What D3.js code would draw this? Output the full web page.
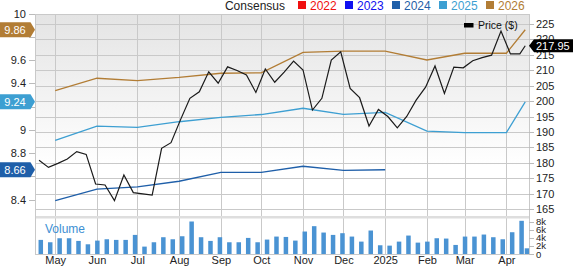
<!DOCTYPE html>
<html>
<head>
<meta charset="utf-8">
<script src="https://cdn.jsdelivr.net/npm/d3@7"></script>
<style>
  body { margin: 0; background: #fff; }
  svg { display: block; font-family: "Liberation Sans", Arial, sans-serif; }
  .grid line { stroke: #c9c9c9; stroke-width: 1; shape-rendering: crispEdges; }
  .axis text { fill: #222; }
  .axis path { display: none; }
  .axis line { stroke: #bbb; shape-rendering: crispEdges; }
</style>
</head>
<body>
<svg id="chart" width="573" height="266"></svg>
<script>
// weekly closes (Fridays) + latest day
var priceDates = ["2024-04-19","2024-04-26","2024-05-03","2024-05-10","2024-05-17","2024-05-24","2024-05-31",
  "2024-06-07","2024-06-14","2024-06-21","2024-06-28","2024-07-05","2024-07-12","2024-07-19","2024-07-26",
  "2024-08-02","2024-08-09","2024-08-16","2024-08-23","2024-08-30","2024-09-06","2024-09-13","2024-09-20",
  "2024-09-27","2024-10-04","2024-10-11","2024-10-18","2024-10-25","2024-11-01","2024-11-08","2024-11-15",
  "2024-11-22","2024-11-29","2024-12-06","2024-12-13","2024-12-20","2024-12-27","2025-01-03","2025-01-10",
  "2025-01-17","2025-01-24","2025-01-31","2025-02-07","2025-02-14","2025-02-21","2025-02-28","2025-03-07",
  "2025-03-14","2025-03-21","2025-03-28","2025-04-04","2025-04-11","2025-04-15"]
var priceValues = [180.8, 178.5, 179.8, 181.2, 183.6, 182.7, 173.1, 172.8, 167.7, 176.0,
  170.3, 169.9, 169.5, 184.7, 186.5, 193.9, 200.9, 203.0, 209.5, 205.8,
  211.1, 209.9, 208.5, 202.8, 210.4, 206.1, 209.4, 213.0, 210.1, 197.1,
  200.9, 213.3, 216.0, 204.1, 201.1, 191.9, 197.3, 195.0, 191.3, 195.0,
  200.3, 204.5, 211.4, 202.5, 211.0, 210.8, 213.1, 214.1, 214.9, 222.7,
  215.3, 215.3, 217.95]
// volume in thousands
var volumeValues = [3.47, 2.89, 3.88, 3.88, 3.22, 2.39, 3.3, 3.63, 3.47, 3.47,
  4.7, 1.82, 2.89, 4.13, 3.63, 4.37, 8.0, 4.13, 3.22, 4.13,
  2.89, 2.89, 3.96, 2.89, 3.55, 4.29, 4.2, 3.3, 5.53, 6.85,
  5.28, 4.7, 5.12, 4.29, 3.05, 5.78, 2.15, 2.06, 3.05, 4.54,
  2.8, 3.05, 3.88, 3.8, 2.23, 4.29, 4.29, 4.79, 4.13, 3.63,
  5.36, 8.17, 1.4]

// monthly consensus EPS estimates
var estDates = ["2024-05-01","2024-06-01","2024-07-01","2024-08-01","2024-09-01","2024-10-01","2024-11-01",
  "2024-12-01","2025-01-01","2025-02-01","2025-03-01","2025-04-01","2025-04-15"]
var est2026 = [9.336, 9.443, 9.422, 9.45, 9.486, 9.49, 9.666, 9.677, 9.677, 9.6, 9.658, 9.658, 9.86]
var est2025 = [8.909, 9.032, 9.021, 9.069, 9.107, 9.131, 9.185, 9.133, 9.15, 8.989, 8.975, 8.975, 9.24]
var est2024 = [8.39, 8.49, 8.508, 8.557, 8.634, 8.634, 8.686, 8.651, 8.656]

var legendYears = ["2022", "2023", "2024", "2025", "2026"]
var legendColors = ["#f01010", "#1010f0", "#1f5fa9", "#3d9fd2", "#b27d35"]
var estTicks = [8.4, 8.6, 8.8, 9, 9.2, 9.4, 9.6, 9.8, 10]
var priceTicks = [165, 170, 175, 180, 185, 190, 195, 200, 205, 210, 215, 220, 225]
var volTicks = [0, 2, 4, 6, 8]

var Plot = { left: 35, right: 529, top: 14, bottom: 216, volTop: 218, volBottom: 254 }
var parse = d3.timeParse("%Y-%m-%d")

function main() {
  var svg = d3.select("#chart")

  var x = d3.scaleTime()
    .domain([parse("2024-04-16"), new Date(2025, 3, 17, 19)])
    .range([Plot.left, Plot.right])
  var yPrice = d3.scaleLinear().domain([165, 225]).range([209, 24])
  var yEst = d3.scaleLinear().domain([8.4, 10]).range([199.5, 13.5])
  var yVol = d3.scaleLinear().domain([0, 8]).range([Plot.volBottom, 221.5])

  // background gradient
  var grad = svg.append("defs").append("linearGradient")
    .attr("id", "bg").attr("x1", 0).attr("y1", 0).attr("x2", 0).attr("y2", 1)
  grad.append("stop").attr("offset", "0%").attr("stop-color", "#e4e4e4")
  grad.append("stop").attr("offset", "75%").attr("stop-color", "#ffffff")
  svg.select("defs").append("clipPath").attr("id", "clip")
    .append("rect").attr("x", Plot.left).attr("y", Plot.top)
    .attr("width", Plot.right - Plot.left).attr("height", Plot.volBottom - Plot.top)

  svg.append("rect")
    .attr("x", Plot.left).attr("y", Plot.top)
    .attr("width", Plot.right - Plot.left).attr("height", Plot.bottom - Plot.top)
    .attr("fill", "url(#bg)")

  // grid
  var grid = svg.append("g").attr("class", "grid")
  grid.selectAll(".h").data(priceTicks).enter().append("line")
    .attr("x1", Plot.left).attr("x2", Plot.right)
    .attr("y1", d => Math.round(yPrice(d)) + 0.5).attr("y2", d => Math.round(yPrice(d)) + 0.5)
  var months = d3.timeMonth.range(parse("2024-05-01"), parse("2025-04-02"))
  grid.selectAll(".v").data(months).enter().append("line")
    .attr("x1", d => Math.round(x(d)) + 0.5).attr("x2", d => Math.round(x(d)) + 0.5)
    .attr("y1", Plot.top).attr("y2", Plot.volBottom)
  grid.selectAll(".b").data([Plot.left, Plot.right]).enter().append("line")
    .attr("x1", d => d + 0.5).attr("x2", d => d + 0.5)
    .attr("y1", Plot.top).attr("y2", Plot.volBottom)
  grid.selectAll(".t").data([Plot.top, Plot.volBottom]).enter().append("line")
    .attr("x1", Plot.left).attr("x2", Plot.right)
    .attr("y1", d => d + 0.5).attr("y2", d => d + 0.5)

  // separator between price panel and volume panel
  svg.append("rect")
    .attr("x", Plot.left + 1).attr("y", Plot.bottom)
    .attr("width", Plot.right - Plot.left - 1).attr("height", 2.5)
    .attr("fill", "#dedede")

  // volume bars
  svg.append("g").attr("clip-path", "url(#clip)")
    .selectAll("rect").data(volumeValues).enter().append("rect")
    .attr("x", (d, i) => x(parse(priceDates[i])) - 0.5)
    .attr("width", 4.5)
    .attr("y", d => yVol(d))
    .attr("height", d => yVol(0) - yVol(d))
    .attr("fill", "#4a93d3")

  svg.append("text")
    .attr("x", 45).attr("y", 232.5)
    .attr("font-size", 12).attr("fill", "#3d8fd3")
    .text("Volume")

  // consensus lines
  var estLine = d3.line()
    .x((d, i) => x(parse(estDates[i])))
    .y(d => yEst(d))
  var estSeries = [[est2024, legendColors[2]], [est2025, legendColors[3]], [est2026, legendColors[4]]]
  svg.append("g").selectAll("path").data(estSeries).enter().append("path")
    .attr("d", d => estLine(d[0]))
    .attr("fill", "none")
    .attr("stroke", d => d[1])
    .attr("stroke-width", 1.3)

  // price line
  var priceLine = d3.line()
    .x((d, i) => x(parse(priceDates[i])))
    .y(d => yPrice(d))
  svg.append("path")
    .attr("d", priceLine(priceValues))
    .attr("fill", "none")
    .attr("stroke", "#1a1a1a")
    .attr("stroke-width", 1.2)

  // axes
  var xAxis = svg.append("g").attr("class", "axis")
    .attr("transform", "translate(0," + Plot.volBottom + ")")
    .call(d3.axisBottom(x).tickValues(months).tickSize(0).tickPadding(2)
      .tickFormat(d => d.getMonth() == 0 ? d3.timeFormat("%Y")(d) : d3.timeFormat("%b")(d)))
  xAxis.selectAll("text").attr("font-size", 11).attr("font-family", null)

  // labels sitting under the value badges are hidden, as in the original
  var badgeTicks = [8.6, 9.2, 9.8]
  var leftAxis = svg.append("g").attr("class", "axis")
    .attr("transform", "translate(" + Plot.left + ",0)")
    .call(d3.axisLeft(yEst).tickValues(estTicks).tickSize(6).tickPadding(3)
      .tickFormat(d => badgeTicks.indexOf(d) >= 0 ? "" : d3.format("")(+d.toFixed(1))))
  leftAxis.selectAll("text").attr("font-size", 11).attr("font-family", null)

  var rightAxis = svg.append("g").attr("class", "axis")
    .attr("transform", "translate(" + Plot.right + ",0)")
    .call(d3.axisRight(yPrice).tickValues(priceTicks).tickSize(5).tickPadding(2))
  rightAxis.selectAll("text").attr("font-size", 11).attr("font-family", null)

  var volAxis = svg.append("g").attr("class", "axis")
    .attr("transform", "translate(" + Plot.right + ",0)")
    .call(d3.axisRight(yVol).tickValues(volTicks).tickSize(5).tickPadding(2)
      .tickFormat(d => d == 0 ? "0" : d + "k"))
  volAxis.selectAll("text").attr("font-size", 9.5).attr("font-family", null)

  // left value badges
  var badges = [[est2026, legendColors[4]], [est2025, legendColors[3]], [est2024, legendColors[2]]]
  var badge = svg.append("g").selectAll("g").data(badges).enter().append("g")
    .attr("transform", d => "translate(0," + yEst(d[0][d[0].length - 1]) + ")")
  badge.append("path")
    .attr("d", "M0,-7.5H30.5L35,0L30.5,7.5H0Z")
    .attr("fill", d => d[1])
  badge.append("text")
    .attr("x", 15).attr("y", 4)
    .attr("text-anchor", "middle")
    .attr("font-size", 11).attr("fill", "#fff")
    .text(d => d3.format(".2f")(d[0][d[0].length - 1]))

  // right price badge
  var last = priceValues[priceValues.length - 1]
  var pb = svg.append("g").attr("transform", "translate(0," + yPrice(last) + ")")
  pb.append("path").attr("d", "M529,0L534,-6.5H573V6.5H534Z").attr("fill", "#000")
  pb.append("text").attr("x", 536).attr("y", 4)
    .attr("font-size", 11).attr("fill", "#fff").text(d3.format(".2f")(last))

  // price legend
  svg.append("rect").attr("x", 464).attr("y", 23).attr("width", 9.5).attr("height", 4.5).attr("fill", "#000")
  svg.append("text").attr("x", 478).attr("y", 29)
    .attr("font-size", 10.5).attr("fill", "#111").text("Price ($)")

  // consensus legend
  svg.append("text").attr("x", 285).attr("y", 9.5)
    .attr("text-anchor", "end").attr("font-size", 12).attr("fill", "#222")
    .text("Consensus")
  var legX = [298, 345, 392, 439, 486]
  var leg = svg.append("g").selectAll("g").data(legendYears).enter().append("g")
    .attr("transform", (d, i) => "translate(" + legX[i] + ",0)")
  leg.append("rect").attr("x", 0).attr("y", 1).attr("width", 8).attr("height", 8)
    .attr("fill", (d, i) => legendColors[i])
  leg.append("text").attr("x", 12).attr("y", 9.5)
    .attr("font-size", 12).attr("fill", (d, i) => legendColors[i])
    .text(d => d)
}

main()
</script>
</body>
</html>
